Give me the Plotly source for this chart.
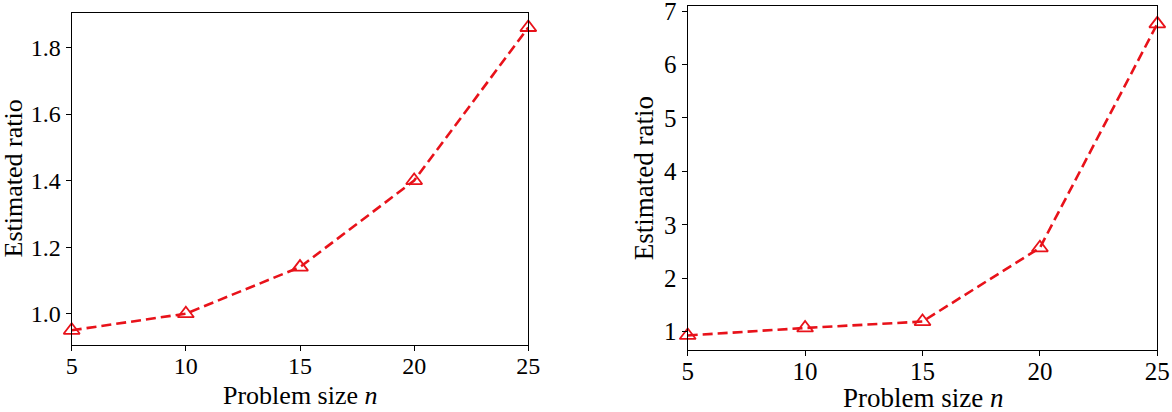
import plotly.graph_objects as go

# ---- data ----
problem_size = [5, 10, 15, 20, 25]
ratio_left = [0.95, 1.00, 1.14, 1.40, 1.86]
ratio_right = [0.93, 1.07, 1.19, 2.57, 6.76]

left_yticks = [1.0, 1.2, 1.4, 1.6, 1.8]
right_yticks = [1, 2, 3, 4, 5, 6, 7]
x_label = "Problem size <i>n</i>"
y_label = "Estimated ratio"

W, H = 1172, 412
RED = "#e8121a"
FONT = "Liberation Serif"

fig = go.Figure()

line_style = dict(color=RED, width=2.6, dash="10px,5px")
marker_style = dict(symbol="triangle-up-open", size=14, color=RED,
                    line=dict(color=RED, width=1.8))

fig.add_trace(go.Scatter(x=problem_size, y=ratio_left, mode="lines+markers",
                         line=line_style, marker=marker_style, cliponaxis=False,
                         xaxis="x", yaxis="y", showlegend=False))
fig.add_trace(go.Scatter(x=problem_size, y=ratio_right, mode="lines+markers",
                         line=line_style, marker=marker_style, cliponaxis=False,
                         xaxis="x2", yaxis="y2", showlegend=False))

# pixel boxes of the two frames
L = dict(x0=71.7, x1=528.3, y0=12.5, y1=345.3)
R = dict(x0=687.7, x1=1157.3, y0=6.0, y1=350.3)


def xdom(b):
    return [b["x0"] / W, b["x1"] / W]


def ydom(b):
    return [1 - b["y1"] / H, 1 - b["y0"] / H]


axis_common = dict(showline=True, linecolor="black", linewidth=1.2, mirror=True,
                   ticks="outside", ticklen=5, tickwidth=1.2, tickcolor="black",
                   showgrid=False, zeroline=False, automargin=False,
                   ticklabeloverflow="allow")

fig.update_layout(
    template="none",
    width=W, height=H,
    margin=dict(l=0, r=0, t=0, b=0, pad=0, autoexpand=False),
    paper_bgcolor="white", plot_bgcolor="white",
    font=dict(family=FONT, color="black"),
    xaxis=dict(domain=xdom(L), range=[5, 25], tickvals=problem_size,
               tickfont=dict(size=24), anchor="y", ticklabelstandoff=-6, **axis_common),
    yaxis=dict(domain=ydom(L), range=[0.905, 1.905], tickvals=left_yticks,
               tickformat=".1f", tickfont=dict(size=24), anchor="x", **axis_common),
    xaxis2=dict(domain=xdom(R), range=[5, 25], tickvals=problem_size,
                tickfont=dict(size=25), anchor="y2", ticklabelstandoff=-6, **axis_common),
    yaxis2=dict(domain=ydom(R), range=[0.652, 7.094], tickvals=right_yticks,
                tickfont=dict(size=25), anchor="x2", **axis_common),
)

annos = [
    dict(text=x_label, x=(L["x0"] + L["x1"]) / 2 / W, y=1 - 395 / H, size=26, angle=0),
    dict(text=x_label, x=(R["x0"] + R["x1"]) / 2 / W, y=1 - 398 / H, size=27, angle=0),
    dict(text=y_label, x=13.5 / W, y=1 - (L["y0"] + L["y1"]) / 2 / H, size=26, angle=-90),
    dict(text=y_label, x=644 / W, y=1 - (R["y0"] + R["y1"]) / 2 / H, size=27, angle=-90),
]
for a in annos:
    fig.add_annotation(text=a["text"], x=a["x"], y=a["y"], xref="paper", yref="paper",
                       xanchor="center", yanchor="middle", showarrow=False,
                       textangle=a["angle"], font=dict(size=a["size"], family=FONT, color="black"))

fig.write_html("out.html", config={"displayModeBar": False},
               post_script="document.body.style.margin='0px';")
